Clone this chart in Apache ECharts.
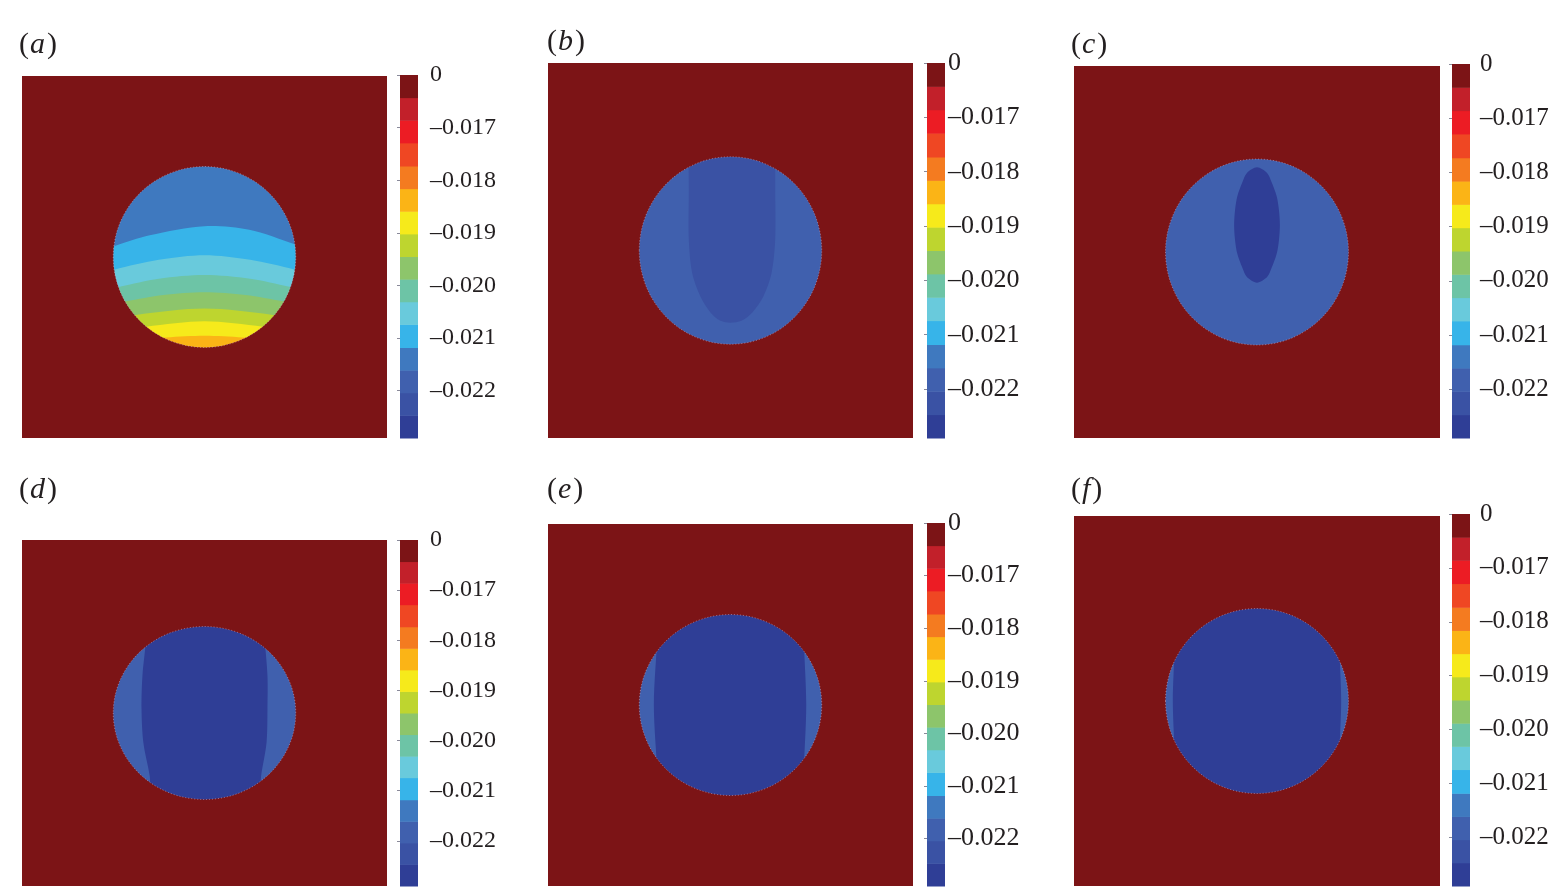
<!DOCTYPE html>
<html>
<head>
<meta charset="utf-8">
<script src="https://cdn.jsdelivr.net/npm/echarts@6/dist/echarts.min.js"></script>
<style>
  html, body { margin: 0; padding: 0; background: #fff; }
  #main { width: 1567px; height: 892px; }
</style>
</head>
<body>
<div id="main"></div>
<script>
// contour levels of the colour bar (bottom -> top), one colour per band
const levels = [-0.02290, -0.02247, -0.02204, -0.02161, -0.02118, -0.02074, -0.02031, -0.01988, -0.01945,
  -0.01902, -0.01859, -0.01816, -0.01773, -0.01729, -0.01686, -0.01643, -0.01600];
const levelColors = ['#2f3e96', '#3a52a4', '#4060ae', '#3f79bf', '#37b4e9', '#69cadc', '#6dc4a6', '#8dc56b',
  '#bed52f', '#f6ea1b', '#fbb416', '#f47b20', '#ef4723', '#ec1c24', '#c2202a', '#7c1416'];
const tickValues = [-0.022, -0.021, -0.020, -0.019, -0.018, -0.017, -0.016];
const tickLabels = ['–0.022', '–0.021', '–0.020', '–0.019', '–0.018', '–0.017', '0'];
const panelNames = ['a', 'b', 'c', 'd', 'e', 'f'];
const outsideValue = 0;

// (a) horizontal bands, boundaries read top -> bottom (x, y), circle radius = 1
const aBase = -0.0214;
const aBandValues = [-0.0210, -0.0205, -0.0201, -0.0197, -0.0192, -0.0188, -0.0184];
const aBoundaries = [
  [[-1.2, 0.05], [-0.99, 0.12], [-0.6, 0.24], [0, 0.34], [0.49, 0.30], [0.99, 0.14], [1.2, 0.06]],
  [[-1.2, -0.22], [-0.99, -0.14], [-0.5, -0.03], [0, 0.02], [0.5, -0.03], [0.99, -0.14], [1.2, -0.22]],
  [[-1.2, -0.40], [-0.93, -0.33], [-0.5, -0.24], [0, -0.20], [0.5, -0.24], [0.93, -0.33], [1.2, -0.40]],
  [[-1.2, -0.56], [-0.86, -0.49], [-0.45, -0.42], [0, -0.39], [0.45, -0.42], [0.86, -0.49], [1.2, -0.56]],
  [[-1.2, -0.73], [-0.75, -0.64], [0, -0.57], [0.75, -0.64], [1.2, -0.73]],
  [[-1.2, -0.86], [-0.64, -0.77], [0, -0.71], [0.64, -0.77], [1.2, -0.86]],
  [[-1.2, -0.98], [-0.42, -0.89], [0, -0.87], [0.42, -0.89], [1.2, -0.98]]
];

// (b) U shaped core
const bBase = -0.0218;
const bInnerValue = -0.0222;
const bInner = [[-0.46, 1.4], [-0.46, 1.0], [-0.457, 0.65], [-0.457, 0.12], [-0.42, -0.24], [-0.33, -0.49],
  [-0.22, -0.66], [-0.11, -0.75], [0, -0.77], [0.12, -0.75], [0.24, -0.66], [0.36, -0.49], [0.45, -0.24],
  [0.49, 0.12], [0.49, 0.65], [0.49, 1.0], [0.49, 1.4]];

// (c) elongated core
const cBase = -0.0218;
const cInnerValue = -0.0226;
const cInner = [[0, 0.91], [0.11, 0.85], [0.16, 0.75], [0.215, 0.60], [0.24, 0.45], [0.25, 0.29], [0.24, 0.13],
  [0.215, -0.02], [0.16, -0.17], [0.11, -0.27], [0, -0.33], [-0.11, -0.27], [-0.16, -0.17], [-0.215, -0.02],
  [-0.24, 0.13], [-0.25, 0.29], [-0.24, 0.45], [-0.215, 0.60], [-0.16, 0.75], [-0.11, 0.85]];

// (d)-(f) dark core between a left and a right boundary
const dBase = -0.0218;
const dInnerValue = -0.0226;
const dLeft = [[-0.62, 1.2], [-0.64, 0.85], [-0.68, 0.43], [-0.69, 0.04], [-0.67, -0.34], [-0.60, -0.73], [-0.55, -1.2]];
const dRight = [[0.64, 1.2], [0.66, 0.85], [0.69, 0.43], [0.69, 0.04], [0.68, -0.34], [0.62, -0.73], [0.57, -1.2]];

const eBase = -0.0218;
const eInnerValue = -0.0226;
const eLeft = [[-0.80, 1.2], [-0.80, 0.8], [-0.84, 0], [-0.80, -0.8], [-0.80, -1.2]];
const eRight = [[0.80, 1.2], [0.80, 0.8], [0.83, 0], [0.80, -0.8], [0.80, -1.2]];

const fBase = -0.0218;
const fInnerValue = -0.0226;
const fLeft = [[-0.90, 1.2], [-0.90, 0.6], [-0.92, 0], [-0.90, -0.6], [-0.90, -1.2]];
const fRight = [[0.90, 1.2], [0.90, 0.6], [0.92, 0], [0.90, -0.6], [0.90, -1.2]];

function core(left, right) {
  return left.concat(right.slice().reverse());
}

const panels = [
  { base: aBase, regions: aBoundaries.map((b, k) => ({ value: aBandValues[k], points: b.concat([[1.2, -1.4], [-1.2, -1.4]]) })) },
  { base: bBase, regions: [{ value: bInnerValue, points: bInner }] },
  { base: cBase, regions: [{ value: cInnerValue, points: cInner }] },
  { base: dBase, regions: [{ value: dInnerValue, points: core(dLeft, dRight) }] },
  { base: eBase, regions: [{ value: eInnerValue, points: core(eLeft, eRight) }] },
  { base: fBase, regions: [{ value: fInnerValue, points: core(fLeft, fRight) }] }
];

// layout
const mapBoxes = [[22, 76, 365, 362], [548, 63, 365, 375], [1074, 66, 366, 372],
  [22, 540, 365, 346], [548, 524, 365, 362], [1074, 516, 366, 370]];
const barBoxes = [[400, 75, 18, 363], [927, 63, 18, 375], [1452, 64, 18, 374],
  [400, 540, 18, 346], [927, 523, 18, 363], [1452, 514, 18, 372]];
const labelMargins = [12, 3, 10, 12, 3, 10];
const labelSizes = [24, 26, 25, 24, 26, 25];
const titlePos = [[19, 28], [547, 25], [1071, 28], [19, 473], [547, 473], [1071, 473]];
const serif = '"Liberation Serif", "DejaVu Serif", serif';

function colorOf(v) {
  for (let i = 0; i < levels.length - 1; i++) {
    if (v < levels[i + 1]) return levelColors[i];
  }
  return levelColors[levelColors.length - 1];
}

const chart = echarts.init(document.getElementById('main'), null, { renderer: 'canvas' });

let grid = [], xAxis = [], yAxis = [], series = [], title = [];

panelNames.forEach((name, p) => {
  const panel = panels[p];
  const mb = mapBoxes[p], bb = barBoxes[p];

  // map grid
  const gMap = grid.length;
  grid.push({ left: mb[0], top: mb[1], width: mb[2], height: mb[3] });
  const xMap = xAxis.length;
  xAxis.push({ type: 'value', gridIndex: gMap, min: -2, max: 2, show: false });
  const yMap = yAxis.length;
  yAxis.push({ type: 'value', gridIndex: gMap, min: -2, max: 2, show: false });

  // circle fill (base level)
  series.push({
    type: 'custom', xAxisIndex: xMap, yAxisIndex: yMap, z: 1, silent: true,
    data: [0],
    renderItem: function (params, api) {
      const tl = api.coord([-2, 2]), br = api.coord([2, -2]);
      return {
        type: 'rect',
        shape: { x: tl[0], y: tl[1], width: br[0] - tl[0], height: br[1] - tl[1] },
        style: { fill: colorOf(panel.base) }
      };
    }
  });

  // contour regions inside the circle
  series.push({
    type: 'custom', xAxisIndex: xMap, yAxisIndex: yMap, z: 2, silent: true,
    data: panel.regions.map((r, i) => i),
    renderItem: function (params, api) {
      const r = panel.regions[params.dataIndex];
      return {
        type: 'polygon',
        shape: { points: r.points.map((pt) => api.coord(pt)), smooth: 0.3 },
        style: { fill: colorOf(r.value) }
      };
    }
  });

  // outside of the circle (square minus disc)
  series.push({
    type: 'custom', xAxisIndex: xMap, yAxisIndex: yMap, z: 3, silent: true,
    data: [0],
    renderItem: function (params, api) {
      const tl = api.coord([-2, 2]), br = api.coord([2, -2]);
      const c = api.coord([0, 0]);
      const s = api.size([1, 1]);
      const rx = s[0], ry = s[1];
      const d = 'M' + tl[0] + ' ' + tl[1] + ' L' + br[0] + ' ' + tl[1] + ' L' + br[0] + ' ' + br[1] +
        ' L' + tl[0] + ' ' + br[1] + ' Z M' + (c[0] - rx) + ' ' + c[1] +
        ' A' + rx + ' ' + ry + ' 0 1 0 ' + (c[0] + rx) + ' ' + c[1] +
        ' A' + rx + ' ' + ry + ' 0 1 0 ' + (c[0] - rx) + ' ' + c[1] + ' Z';
      const ring = 'M' + (c[0] - rx) + ' ' + c[1] +
        ' A' + rx + ' ' + ry + ' 0 1 0 ' + (c[0] + rx) + ' ' + c[1] +
        ' A' + rx + ' ' + ry + ' 0 1 0 ' + (c[0] - rx) + ' ' + c[1] + ' Z';
      return {
        type: 'group',
        children: [{
          type: 'path',
          shape: { pathData: d, x: tl[0], y: tl[1], width: br[0] - tl[0], height: br[1] - tl[1], layout: 'cover' },
          style: { fill: colorOf(outsideValue) }
        }, {
          type: 'path',
          shape: { pathData: ring, x: c[0] - rx, y: c[1] - ry, width: 2 * rx, height: 2 * ry, layout: 'cover' },
          style: { fill: 'none', stroke: 'rgba(215,190,215,0.55)', lineWidth: 1, lineDash: [1, 2] }
        }]
      };
    }
  });

  // colour bar
  const gBar = grid.length;
  grid.push({ left: bb[0], top: bb[1], width: bb[2], height: bb[3] });
  const xBar = xAxis.length;
  xAxis.push({ type: 'value', gridIndex: gBar, min: 0, max: 1, show: false });
  const yBar = yAxis.length;
  yAxis.push({
    type: 'value', gridIndex: gBar, position: 'right', min: levels[0], max: levels[levels.length - 1],
    splitLine: { show: false }, axisLine: { show: false },
    axisTick: { show: true, inside: true, length: 3, customValues: tickValues, lineStyle: { color: 'rgba(40,40,70,0.55)' } },
    axisLabel: {
      customValues: tickValues, margin: labelMargins[p], fontFamily: serif, fontSize: labelSizes[p], color: '#231f20',
      formatter: function (v) {
        const k = tickValues.findIndex((t) => Math.abs(t - v) < 1e-9);
        return k >= 0 ? tickLabels[k] : '';
      }
    }
  });
  yAxis.push({
    type: 'value', gridIndex: gBar, position: 'left', min: levels[0], max: levels[levels.length - 1],
    splitLine: { show: false }, axisLine: { show: false }, axisLabel: { show: false },
    axisTick: { show: true, inside: true, length: 3, customValues: tickValues, lineStyle: { color: 'rgba(40,40,70,0.55)' } }
  });
  series.push({
    type: 'custom', xAxisIndex: xBar, yAxisIndex: yBar, silent: true,
    data: levelColors.map((c, i) => i),
    renderItem: function (params, api) {
      const i = params.dataIndex;
      const p0 = api.coord([0, levels[i + 1]]), p1 = api.coord([1, levels[i]]);
      return {
        type: 'rect',
        shape: { x: p0[0], y: p0[1], width: p1[0] - p0[0], height: p1[1] - p0[1] + 0.5 },
        style: { fill: levelColors[i] }
      };
    }
  });

  title.push({
    text: '{n|(}{i|' + name + '}{n|)}',
    left: titlePos[p][0], top: titlePos[p][1], padding: 0,
    textStyle: {
      fontWeight: 'normal',
      rich: {
        n: { fontFamily: serif, fontSize: 30, fontWeight: 'normal', color: '#231f20', lineHeight: 34 },
        i: { fontFamily: serif, fontSize: 30, fontWeight: 'normal', fontStyle: 'italic', color: '#231f20', lineHeight: 34, padding: [0, 2, 0, 1] }
      }
    }
  });
});

const option = {
  animation: false,
  backgroundColor: '#ffffff',
  title: title,
  grid: grid,
  xAxis: xAxis,
  yAxis: yAxis,
  series: series
};
chart.setOption(option);
</script>
</body>
</html>
